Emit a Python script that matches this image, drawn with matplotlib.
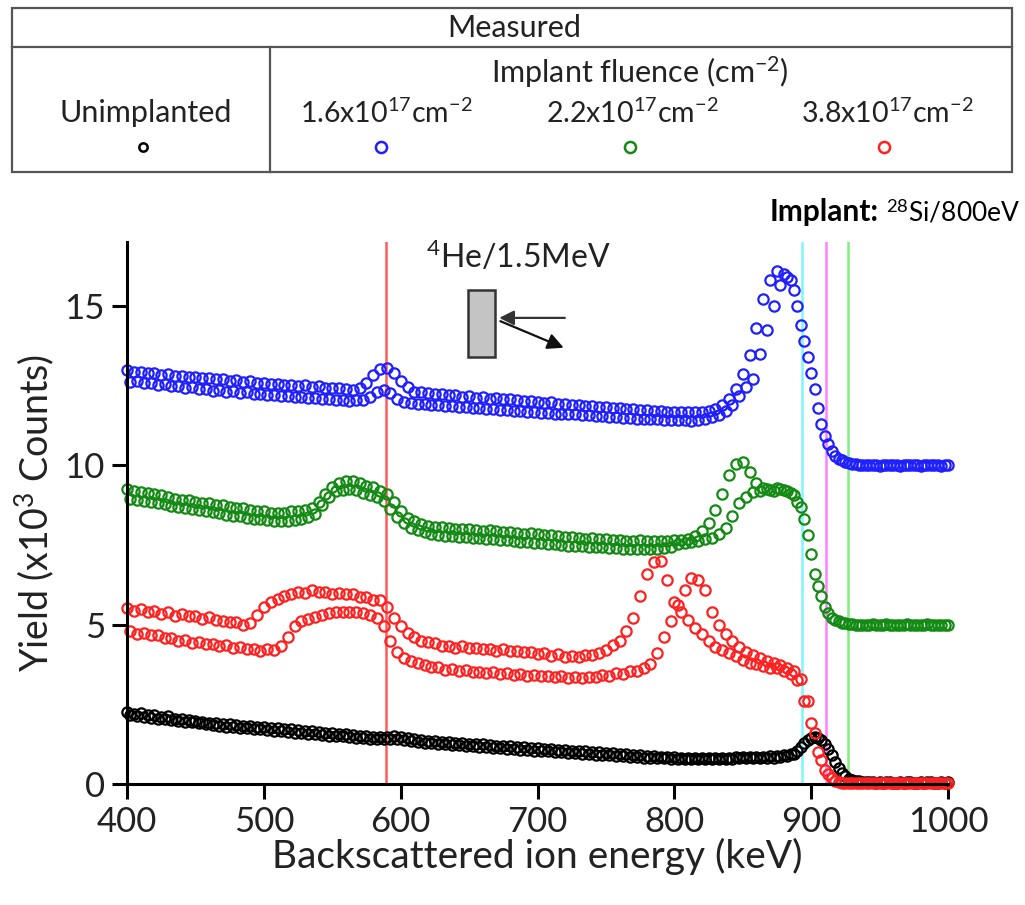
"""RBS spectra of Si implanted samples: yield versus backscattered ion energy."""

import matplotlib

matplotlib.use("Agg")
import matplotlib.pyplot as plt
import numpy as np
from matplotlib.patches import Rectangle

plt.rcParams["font.family"] = ["Lato", "DejaVu Sans"]
plt.rcParams["mathtext.fontset"] = "custom"
plt.rcParams["mathtext.rm"] = "Lato"
plt.rcParams["mathtext.it"] = "Lato:italic"
plt.rcParams["mathtext.bf"] = "Lato:bold"

TEXT = "#222222"

# Channel energies (keV): first scan on the 5 keV grid, repeat scan offset by 2.5 keV.
energy = np.arange(400, 1001, 5)
energy_repeat = np.arange(402.5, 1000, 5)

# Unimplanted (black), scan A on 400 ... 1000 keV
black_a = [
    2.25, 2.20, 2.22, 2.15, 2.17, 2.10, 2.12, 2.05, 2.04, 2.00,
    1.97, 1.96, 1.92, 1.91, 1.88, 1.87, 1.85, 1.82, 1.81, 1.80,
    1.78, 1.76, 1.75, 1.72, 1.71, 1.70, 1.66, 1.65, 1.63, 1.60,
    1.60, 1.57, 1.56, 1.55, 1.52, 1.50, 1.48, 1.47, 1.47, 1.50,
    1.48, 1.45, 1.41, 1.38, 1.36, 1.35, 1.32, 1.31, 1.30, 1.28,
    1.27, 1.25, 1.25, 1.22, 1.20, 1.20, 1.18, 1.16, 1.15, 1.13,
    1.12, 1.10, 1.10, 1.08, 1.07, 1.05, 1.04, 1.02, 1.00, 1.00,
    0.98, 0.97, 0.95, 0.93, 0.92, 0.90, 0.88, 0.88, 0.86, 0.85,
    0.84, 0.83, 0.83, 0.82, 0.82, 0.82, 0.83, 0.83, 0.83, 0.84,
    0.84, 0.85, 0.85, 0.86, 0.87, 0.88, 0.90, 0.95, 1.05, 1.30,
    1.45, 1.45, 1.25, 0.90, 0.50, 0.25, 0.12, 0.08, 0.06, 0.05,
    0.05, 0.05, 0.04, 0.05, 0.05, 0.04, 0.05, 0.05, 0.04, 0.05,
    0.05,
]

# Unimplanted (black), scan B on 402.5 ... 997.5 keV
black_b = [
    2.15, 2.14, 2.10, 2.08, 2.05, 2.03, 2.00, 1.97, 1.95, 1.93,
    1.90, 1.87, 1.85, 1.83, 1.80, 1.79, 1.76, 1.75, 1.72, 1.71,
    1.68, 1.67, 1.65, 1.63, 1.61, 1.60, 1.57, 1.56, 1.54, 1.52,
    1.50, 1.49, 1.47, 1.45, 1.43, 1.42, 1.40, 1.40, 1.42, 1.41,
    1.38, 1.35, 1.32, 1.30, 1.28, 1.26, 1.24, 1.23, 1.21, 1.20,
    1.18, 1.17, 1.15, 1.14, 1.12, 1.11, 1.09, 1.08, 1.06, 1.05,
    1.03, 1.02, 1.01, 0.99, 0.98, 0.96, 0.95, 0.94, 0.92, 0.91,
    0.90, 0.88, 0.87, 0.86, 0.84, 0.83, 0.82, 0.81, 0.80, 0.79,
    0.78, 0.78, 0.77, 0.77, 0.77, 0.78, 0.78, 0.79, 0.79, 0.80,
    0.80, 0.81, 0.82, 0.82, 0.83, 0.85, 0.88, 0.95, 1.15, 1.38,
    1.48, 1.38, 1.10, 0.70, 0.35, 0.16, 0.09, 0.06, 0.05, 0.04,
    0.04, 0.05, 0.04, 0.04, 0.05, 0.04, 0.04, 0.05, 0.04, 0.04,
]

# 1.6e17 cm^-2 (blue), scan A on 400 ... 1000 keV
blue_a = [
    12.98, 12.92, 12.93, 12.88, 12.89, 12.84, 12.85, 12.80, 12.81, 12.77,
    12.76, 12.72, 12.74, 12.69, 12.70, 12.65, 12.66, 12.62, 12.63, 12.59,
    12.58, 12.55, 12.56, 12.52, 12.53, 12.49, 12.50, 12.46, 12.47, 12.43,
    12.42, 12.41, 12.39, 12.36, 12.42, 12.58, 12.82, 13.02, 13.05, 12.90,
    12.65, 12.45, 12.31, 12.28, 12.26, 12.22, 12.23, 12.20, 12.19, 12.15,
    12.16, 12.12, 12.13, 12.09, 12.10, 12.06, 12.07, 12.03, 12.02, 12.00,
    11.99, 11.96, 11.97, 11.93, 11.92, 11.90, 11.90, 11.86, 11.87, 11.83,
    11.82, 11.80, 11.80, 11.76, 11.77, 11.73, 11.73, 11.70, 11.70, 11.67,
    11.68, 11.66, 11.66, 11.66, 11.68, 11.70, 11.77, 11.90, 12.08, 12.38,
    12.85, 13.45, 14.30, 15.20, 15.80, 16.10, 16.00, 15.80, 15.00, 13.90,
    12.90, 11.80, 10.90, 10.45, 10.20, 10.10, 10.05, 10.02, 10.00, 10.02,
    9.98, 10.02, 10.00, 9.98, 10.02, 10.00, 9.98, 10.02, 10.00, 9.98,
    10.00,
]

# 1.6e17 cm^-2 (blue), scan B on 402.5 ... 997.5 keV
blue_b = [
    12.62, 12.64, 12.57, 12.58, 12.52, 12.54, 12.47, 12.49, 12.43, 12.44,
    12.38, 12.40, 12.34, 12.35, 12.30, 12.32, 12.26, 12.28, 12.22, 12.24,
    12.19, 12.20, 12.16, 12.17, 12.13, 12.14, 12.10, 12.11, 12.07, 12.08,
    12.04, 12.05, 12.02, 12.03, 12.05, 12.15, 12.28, 12.36, 12.26, 12.08,
    11.98, 11.95, 11.93, 11.92, 11.89, 11.89, 11.86, 11.86, 11.83, 11.83,
    11.80, 11.80, 11.77, 11.77, 11.74, 11.74, 11.71, 11.71, 11.68, 11.68,
    11.65, 11.65, 11.62, 11.62, 11.59, 11.59, 11.56, 11.56, 11.53, 11.53,
    11.50, 11.50, 11.48, 11.48, 11.46, 11.46, 11.44, 11.44, 11.42, 11.42,
    11.41, 11.41, 11.40, 11.42, 11.45, 11.50, 11.58, 11.70, 11.88, 12.18,
    12.45, 12.70, 13.50, 14.25, 15.00, 15.65, 15.90, 15.50, 14.40, 13.40,
    12.40, 11.30, 10.65, 10.30, 10.15, 10.08, 10.03, 10.00, 10.00, 10.00,
    10.00, 10.00, 10.00, 10.00, 10.00, 10.00, 10.00, 10.00, 10.00, 10.00,
]

# 2.2e17 cm^-2 (green), scan A on 400 ... 1000 keV
green_a = [
    9.25, 9.19, 9.15, 9.14, 9.09, 9.05, 8.99, 8.95, 8.90, 8.90,
    8.85, 8.80, 8.80, 8.75, 8.75, 8.70, 8.65, 8.65, 8.60, 8.56,
    8.55, 8.51, 8.51, 8.50, 8.55, 8.55, 8.60, 8.66, 8.85, 9.10,
    9.30, 9.45, 9.50, 9.50, 9.45, 9.35, 9.30, 9.20, 9.10, 8.85,
    8.55, 8.35, 8.25, 8.17, 8.10, 8.06, 8.05, 8.03, 8.00, 8.01,
    8.00, 7.97, 7.95, 7.96, 7.93, 7.90, 7.91, 7.87, 7.85, 7.86,
    7.83, 7.80, 7.81, 7.77, 7.75, 7.76, 7.73, 7.70, 7.71, 7.67,
    7.67, 7.65, 7.66, 7.63, 7.63, 7.64, 7.61, 7.61, 7.63, 7.63,
    7.65, 7.65, 7.70, 7.78, 7.92, 8.20, 8.60, 9.10, 9.70, 10.05,
    10.10, 9.80, 9.45, 9.28, 9.22, 9.27, 9.22, 9.12, 8.85, 8.30,
    7.20, 6.20, 5.55, 5.20, 5.10, 5.05, 5.02, 5.00, 5.00, 5.02,
    4.98, 5.02, 5.00, 4.98, 5.02, 5.00, 4.98, 5.02, 5.00, 4.98,
    5.00,
]

# 2.2e17 cm^-2 (green), scan B on 402.5 ... 997.5 keV
green_b = [
    8.95, 8.92, 8.88, 8.85, 8.80, 8.78, 8.72, 8.70, 8.65, 8.62,
    8.58, 8.55, 8.52, 8.50, 8.45, 8.42, 8.40, 8.35, 8.32, 8.30,
    8.28, 8.25, 8.25, 8.25, 8.28, 8.30, 8.36, 8.48, 8.75, 9.00,
    9.18, 9.22, 9.24, 9.22, 9.14, 9.07, 9.00, 8.88, 8.62, 8.38,
    8.18, 8.04, 7.96, 7.90, 7.84, 7.81, 7.79, 7.77, 7.76, 7.75,
    7.73, 7.71, 7.70, 7.68, 7.66, 7.64, 7.62, 7.60, 7.58, 7.57,
    7.55, 7.54, 7.52, 7.50, 7.48, 7.47, 7.45, 7.44, 7.42, 7.42,
    7.40, 7.40, 7.38, 7.38, 7.37, 7.37, 7.36, 7.37, 7.40, 7.44,
    7.52, 7.56, 7.58, 7.62, 7.67, 7.73, 7.83, 8.03, 8.40, 8.80,
    9.00, 9.15, 9.20, 9.25, 9.20, 9.25, 9.20, 9.05, 8.70, 7.80,
    6.60, 5.90, 5.35, 5.15, 5.05, 5.02, 5.00, 5.00, 5.00, 5.00,
    5.00, 5.00, 5.00, 5.00, 5.00, 5.00, 5.00, 5.00, 5.00, 5.00,
]

# 3.8e17 cm^-2 (red), scan A on 400 ... 1000 keV
red_a = [
    5.52, 5.44, 5.48, 5.38, 5.43, 5.33, 5.38, 5.28, 5.33, 5.27,
    5.27, 5.18, 5.23, 5.13, 5.12, 5.08, 5.07, 4.98, 5.06, 5.30,
    5.55, 5.70, 5.80, 5.90, 5.95, 6.02, 5.98, 6.07, 6.02, 6.03,
    5.97, 5.98, 5.96, 5.97, 5.88, 5.87, 5.78, 5.76, 5.55, 5.20,
    4.95, 4.75, 4.60, 4.50, 4.45, 4.42, 4.33, 4.32, 4.28, 4.32,
    4.26, 4.27, 4.23, 4.24, 4.18, 4.22, 4.16, 4.17, 4.13, 4.14,
    4.08, 4.12, 4.03, 4.07, 3.98, 4.02, 3.98, 4.04, 4.05, 4.10,
    4.20, 4.35, 4.50, 4.80, 5.20, 5.90, 6.60, 6.95, 7.00, 6.40,
    5.70, 5.40, 5.15, 4.90, 4.70, 4.50, 4.30, 4.20, 4.10, 4.00,
    3.90, 3.80, 3.75, 3.70, 3.65, 3.65, 3.55, 3.45, 3.25, 2.60,
    1.90, 1.00, 0.45, 0.20, 0.06, 0.03, 0.02, 0.02, 0.02, 0.02,
    0.02, 0.02, 0.02, 0.02, 0.02, 0.02, 0.02, 0.02, 0.02, 0.02,
    0.02,
]

# 3.8e17 cm^-2 (red), scan B on 402.5 ... 997.5 keV
red_b = [
    4.80, 4.72, 4.75, 4.66, 4.68, 4.58, 4.59, 4.50, 4.52, 4.43,
    4.45, 4.38, 4.40, 4.32, 4.35, 4.28, 4.30, 4.23, 4.25, 4.18,
    4.22, 4.20, 4.32, 4.60, 4.95, 5.10, 5.16, 5.25, 5.30, 5.35,
    5.38, 5.40, 5.40, 5.38, 5.35, 5.30, 5.20, 4.95, 4.50, 4.15,
    3.95, 3.85, 3.78, 3.74, 3.66, 3.67, 3.58, 3.60, 3.53, 3.57,
    3.50, 3.52, 3.48, 3.50, 3.45, 3.47, 3.43, 3.45, 3.40, 3.42,
    3.38, 3.40, 3.36, 3.38, 3.33, 3.37, 3.33, 3.37, 3.36, 3.42,
    3.40, 3.47, 3.46, 3.54, 3.54, 3.64, 3.75, 4.10, 4.60, 5.10,
    5.60, 6.10, 6.45, 6.40, 6.10, 5.40, 5.00, 4.70, 4.50, 4.30,
    4.15, 4.05, 3.95, 3.85, 3.80, 3.72, 3.65, 3.55, 3.30, 2.60,
    1.60, 0.75, 0.30, 0.10, 0.04, 0.02, 0.02, 0.02, 0.02, 0.02,
    0.02, 0.02, 0.02, 0.02, 0.02, 0.02, 0.02, 0.02, 0.02, 0.02,
]

# Reference energies of the vertical markers (keV) and their colours
marker_energies = [589, 893, 911, 927]
marker_colors = ["#ff5a5a", "#7ff5ff", "#ff80ff", "#80ee80"]

legend_labels = [
    "Unimplanted",
    "1.6x10$^{17}$cm$^{-2}$",
    "2.2x10$^{17}$cm$^{-2}$",
    "3.8x10$^{17}$cm$^{-2}$",
]
series_colors = ["black", "#1f1fff", "#138a13", "#ff2020"]

fig = plt.figure(figsize=(10.25, 9.05), dpi=100)

ax = fig.add_axes([127 / 1025, 121 / 905, 821 / 1025, 542 / 905])
ax.set_xlim(400, 1000)
ax.set_ylim(0, 17)

for x_pos, col in zip(marker_energies, marker_colors):
    ax.axvline(x_pos, color=col, lw=1.8, zorder=1)

style = dict(ls="none", marker="o", mfc="none", ms=7.4, mew=1.6, clip_on=False, zorder=2)
scans = [
    (energy, black_a, 0), (energy_repeat, black_b, 0),
    (energy, blue_a, 1), (energy_repeat, blue_b, 1),
    (energy, green_a, 2), (energy_repeat, green_b, 2),
    (energy, red_a, 3), (energy_repeat, red_b, 3),
]
for x_vals, y_vals, idx in scans:
    ax.plot(x_vals, y_vals, mec=series_colors[idx], **style)

ax.spines["top"].set_visible(False)
ax.spines["right"].set_visible(False)
for side in ("left", "bottom"):
    ax.spines[side].set_linewidth(2.2)
ax.set_xticks(np.arange(400, 1001, 100))
ax.set_yticks([0, 5, 10, 15])
ax.tick_params(direction="out", length=11, width=2.2, labelsize=25, labelcolor=TEXT, pad=5)
ax.set_xlabel("Backscattered ion energy (keV)", fontsize=28, color=TEXT, labelpad=0)
ax.set_ylabel("Yield (x10$^3$ Counts)", fontsize=27, color=TEXT, labelpad=6)

# Beam geometry sketch
ax.add_patch(Rectangle((649, 13.4), 20, 2.1, fc="#c4c4c4", ec="#333333", lw=1.8, zorder=3))
ax.annotate("", xy=(670, 14.62), xytext=(722, 14.62),
            arrowprops=dict(arrowstyle="-|>", color="#333333", lw=1.6, mutation_scale=22))
ax.annotate("", xy=(721, 13.65), xytext=(671, 14.55),
            arrowprops=dict(arrowstyle="-|>", color="#111111", lw=1.6, mutation_scale=24))
ax.text(686, 16.55, "$^4$He/1.5MeV", fontsize=23, color=TEXT, ha="center", va="center")

# Legend table and implant note, drawn in pixel coordinates
leg = fig.add_axes([0, 0, 1, 1])
leg.set_xlim(0, 1025)
leg.set_ylim(905, 0)
leg.axis("off")
leg.add_patch(Rectangle((12, 8), 1000, 164, fill=False, ec="#555555", lw=1.6))
leg.plot([12, 1012], [47, 47], color="#555555", lw=1.6)
leg.plot([270, 270], [47, 172], color="#555555", lw=1.6)
leg.text(514, 28, "Measured", fontsize=22, color=TEXT, ha="center", va="center")
leg.text(640, 72, "Implant fluence (cm$^{-2}$)", fontsize=22, color=TEXT, ha="center", va="center")

label_x = [146, 386, 632, 887]
label_size = [22, 20.5, 20.5, 20.5]
circle_x = [143, 381, 630, 884]
circle_size = [6, 8, 8, 8]
for lx, fs, cx, size, lab, col in zip(label_x, label_size, circle_x, circle_size,
                                      legend_labels, series_colors):
    leg.text(lx, 113, lab, fontsize=fs, color=TEXT, ha="center", va="center")
    leg.plot([cx], [147], ls="none", marker="o", mfc="none", mec=col, ms=size, mew=1.8)

note = leg.text(1020, 212, "$^{28}$Si/800eV", fontsize=19, color="black", ha="right", va="center")
note_box = note.get_window_extent(renderer=fig.canvas.get_renderer())
leg.text(note_box.x0 - 7, 212, "Implant:", fontsize=21.5, fontweight="bold", color="black",
         ha="right", va="center")

fig.savefig("out.png", dpi=100, facecolor="white")
